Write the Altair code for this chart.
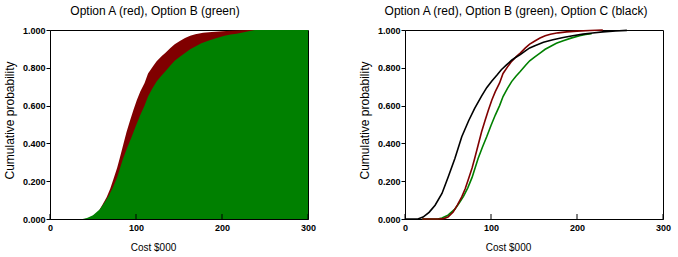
import altair as alt
import pandas as pd

# ---- data (cost in $000, cumulative probability) ----
A_cost = [20, 40, 45, 50, 56, 61, 66, 70, 74, 78, 81, 85, 89, 93, 97, 101, 105, 110, 114, 120,
          124, 130, 134, 140, 145, 151, 157, 163, 169, 178, 188, 200, 215, 230]
A_prob = [0, 0, 0.002, 0.01, 0.037, 0.075, 0.117, 0.16, 0.214, 0.27, 0.32, 0.39, 0.46, 0.52, 0.577,
          0.63, 0.674, 0.72, 0.77, 0.81, 0.834, 0.862, 0.878, 0.905, 0.925, 0.942, 0.958, 0.97,
          0.978, 0.985, 0.99, 0.994, 0.997, 1.0]

B_cost = [20, 38, 43, 50, 58, 63, 68, 73, 78, 85, 90, 95, 100, 105, 110, 114, 119, 124, 129, 134,
          140, 145, 151, 157, 163, 169, 176, 184, 193, 203, 210, 217]
B_prob = [0, 0, 0.005, 0.02, 0.052, 0.085, 0.12, 0.165, 0.22, 0.32, 0.38, 0.435, 0.495, 0.55, 0.6,
          0.648, 0.69, 0.727, 0.755, 0.78, 0.812, 0.837, 0.858, 0.878, 0.898, 0.913, 0.93, 0.943,
          0.957, 0.97, 0.976, 0.98]

C_cost = [0, 15, 21, 28, 35, 43, 50, 58, 66, 74, 81, 89, 95, 101, 107, 112, 118, 124, 129, 134,
          140, 145, 151, 161, 172, 184, 195, 207, 218, 230, 245, 258]
C_prob = [0, 0, 0.01, 0.035, 0.073, 0.135, 0.22, 0.32, 0.435, 0.52, 0.585, 0.65, 0.695, 0.73, 0.762,
          0.79, 0.815, 0.84, 0.856, 0.87, 0.89, 0.905, 0.917, 0.935, 0.948, 0.96, 0.97, 0.978,
          0.984, 0.99, 0.995, 0.998]

# tails used by the filled (left) panel, which runs to the end of the axis
A_tail_cost = [300]
A_tail_prob = [1.0]
B_tail_cost = [238, 300]
B_tail_prob = [1.0, 1.0]

x_ticks = [0, 100, 200, 300]
y_ticks = [0, 0.2, 0.4, 0.6, 0.8, 1.0]

title_left = "Option A (red), Option B (green)"
title_right = "Option A (red), Option B (green), Option C (black)"
x_title = "Cost $000"
y_title = "Cumulative probability"

RED = "#800000"
GREEN = "#008000"
BLACK = "#000000"
FONT = "Liberation Sans"
W, H = 258, 189


def frame(cost, prob):
    return pd.DataFrame({"cost": cost, "prob": prob})


xscale = alt.Scale(domain=[0, 300], nice=False, zero=False)
yscale = alt.Scale(domain=[0, 1], nice=False)

xaxis = alt.Axis(values=x_ticks, format="d", tickSize=0, labelPadding=4, grid=False,
                 title=x_title, titleX=103, titleY=28, titleBaseline="middle",
                 titleFontSize=10, titleFontWeight="normal", labelFontSize=9,
                 labelFontWeight="bold", labelFlush=False)
yaxis = alt.Axis(values=y_ticks, format=".3f", tickSize=4, labelPadding=1, grid=False,
                 title=y_title, titleX=-41, titleY=90, titleAngle=-90,
                 titleBaseline="middle", titleAlign="center", titleFontSize=12,
                 titleFontWeight="normal", labelFontSize=9, labelFontWeight="bold",
                 labelFlush=False)

X = alt.X("cost:Q", scale=xscale, axis=xaxis)
Y = alt.Y("prob:Q", scale=yscale, axis=yaxis)

tick_df = pd.DataFrame({"cost": x_ticks})
inner_ticks = alt.Chart(tick_df).mark_rule(color=BLACK, strokeWidth=1).encode(
    x=alt.X("cost:Q", scale=xscale), y=alt.value(H), y2=alt.value(H - 5)
)

areaA = alt.Chart(frame(A_cost + A_tail_cost, A_prob + A_tail_prob)).mark_area(
    color=RED, opacity=1, interpolate="linear").encode(x=X, y=Y)
areaB = alt.Chart(frame(B_cost + B_tail_cost, B_prob + B_tail_prob)).mark_area(
    color=GREEN, opacity=1, interpolate="linear").encode(x=X, y=Y)

left = alt.layer(areaA, areaB, inner_ticks).properties(
    width=W, height=H,
    title=alt.TitleParams(title_left, fontSize=12, font=FONT, fontWeight="normal",
                          anchor="middle", dx=-24, offset=8))

lineB = alt.Chart(frame(B_cost, B_prob)).mark_line(color=GREEN, strokeWidth=1.6).encode(x=X, y=Y)
lineA = alt.Chart(frame(A_cost, A_prob)).mark_line(color=RED, strokeWidth=1.6).encode(x=X, y=Y)
lineC = alt.Chart(frame(C_cost, C_prob)).mark_line(color=BLACK, strokeWidth=1.6).encode(x=X, y=Y)

right = alt.layer(lineB, lineA, lineC, inner_ticks).properties(
    width=W, height=H,
    title=alt.TitleParams(title_right, fontSize=12, font=FONT, fontWeight="normal",
                          anchor="middle", dx=-18, offset=8))

chart = alt.hconcat(left, right, spacing=97, bounds="flush").properties(
    padding={"left": 2, "top": 4, "right": 3, "bottom": 2},
    background="white"
).configure_view(
    stroke=BLACK, strokeWidth=1
).configure_axis(
    domainColor=BLACK, tickColor=BLACK, labelColor=BLACK, titleColor=BLACK,
    labelFont=FONT, titleFont=FONT, domainWidth=1, tickWidth=1,
    minExtent=45, maxExtent=45
).configure_title(color=BLACK)

chart.save("out.html", embed_options={"renderer": "svg", "actions": False})
